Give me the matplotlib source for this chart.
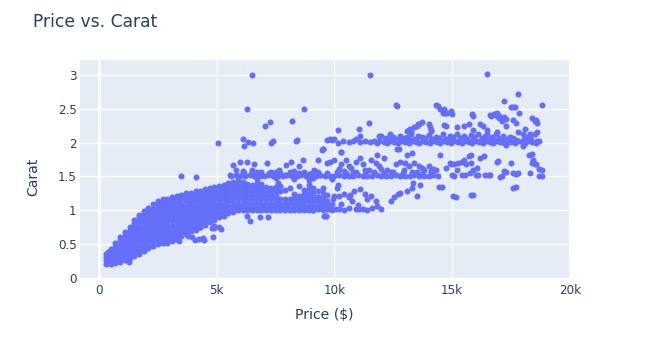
import matplotlib
matplotlib.use("Agg")
import matplotlib.pyplot as plt
from matplotlib.ticker import FixedLocator

# ---------------- data (price in $, carat) ----------------
# dense main cloud, listed column by column: (price, [carats...])
dense_columns = [
    (300, [.21, .26, .31, .36]),
    (400, [.22, .28, .34, .39]),
    (500, [.21, .27, .33, .39, .43]),
    (700, [.22, .28, .34, .40, .46, .52]),
    (900, [.24, .30, .36, .42, .48, .54, .60]),
    (1100, [.26, .32, .38, .44, .50, .56, .62, .68]),
    (1300, [.29, .35, .41, .47, .53, .59, .65, .71, .76]),
    (1500, [.33, .39, .45, .51, .57, .63, .69, .75, .81, .86]),
    (1700, [.36, .42, .48, .54, .60, .66, .72, .78, .84, .90, .93]),
    (1900, [.40, .46, .52, .58, .64, .70, .76, .82, .88, .94, .99]),
    (2100, [.44, .50, .56, .62, .68, .74, .80, .86, .92, .98, 1.03]),
    (2300, [.48, .54, .60, .66, .72, .78, .84, .90, .96, 1.02, 1.09]),
    (2500, [.50, .56, .62, .68, .74, .80, .86, .92, .98, 1.04, 1.10, 1.14]),
    (2700, [.51, .57, .63, .69, .75, .81, .87, .93, .99, 1.05, 1.11, 1.16]),
    (2900, [.52, .58, .64, .70, .76, .82, .88, .94, 1.00, 1.06, 1.12, 1.17]),
    (3100, [.55, .61, .67, .73, .79, .85, .91, .97, 1.03, 1.09, 1.15, 1.20]),
    (3300, [.58, .64, .70, .76, .82, .88, .94, 1.00, 1.06, 1.12, 1.18, 1.21]),
    (3500, [.62, .68, .74, .80, .86, .92, .98, 1.04, 1.10, 1.16, 1.22]),
    (3700, [.65, .71, .77, .83, .89, .95, 1.01, 1.07, 1.13, 1.19, 1.25]),
    (3900, [.69, .75, .81, .87, .93, .99, 1.05, 1.11, 1.17, 1.23, 1.26]),
    (4100, [.71, .77, .83, .89, .95, 1.01, 1.07, 1.13, 1.19, 1.25, 1.28]),
    (4300, [.75, .81, .87, .93, .99, 1.05, 1.11, 1.17, 1.23, 1.29]),
    (4500, [.78, .84, .90, .96, 1.02, 1.08, 1.14, 1.20, 1.26, 1.31]),
    (4700, [.82, .88, .94, 1.00, 1.06, 1.12, 1.18, 1.24, 1.30, 1.33]),
    (4900, [.86, .92, .98, 1.04, 1.10, 1.16, 1.22, 1.28, 1.34]),
    (5100, [.90, .96, 1.02, 1.08, 1.14, 1.20, 1.26, 1.32, 1.36]),
    (5300, [.92, .98, 1.04, 1.10, 1.16, 1.22, 1.28, 1.34, 1.37]),
    (5500, [.96, 1.01, 1.07, 1.13, 1.19, 1.25, 1.31, 1.37, 1.40]),
    (5700, [.98, 1.02, 1.08, 1.14, 1.20, 1.26, 1.32, 1.38, 1.42]),
    (5900, [1.00, 1.05, 1.10, 1.16, 1.22, 1.28, 1.34, 1.40, 1.44]),
    (6100, [1.00, 1.04, 1.10, 1.16, 1.22, 1.28, 1.34, 1.40, 1.42]),
    (6300, [1.00, 1.05, 1.11, 1.17, 1.23, 1.29, 1.35, 1.39]),
    (6500, [1.00, 1.04, 1.10, 1.16, 1.22, 1.28, 1.34, 1.38]),
    (6700, [1.00, 1.05, 1.11, 1.17, 1.23, 1.29, 1.35, 1.40]),
    (6900, [1.00, 1.04, 1.10, 1.16, 1.22, 1.28, 1.34, 1.39]),
    (7100, [1.00, 1.05, 1.11, 1.17, 1.23, 1.29, 1.35]),
    (7300, [1.00, 1.04, 1.10, 1.16, 1.22, 1.28, 1.33]),
    (7500, [1.00, 1.05, 1.11, 1.17, 1.23, 1.29, 1.35]),
    (7700, [1.00, 1.04, 1.10, 1.16, 1.28, 1.36]),
    (7900, [1.00, 1.05, 1.11, 1.17, 1.30]),
    (8100, [1.00, 1.04, 1.10, 1.16, 1.33]),
    (8300, [1.00, 1.06, 1.12, 1.18, 1.24]),
    (8500, [1.00, 1.03, 1.09, 1.15, 1.21, 1.36]),
    (8700, [1.00, 1.06, 1.12, 1.18, 1.24, 1.30]),
    (8900, [1.01, 1.07, 1.13, 1.19, 1.25, 1.31, 1.38]),
    (9100, [1.01, 1.07, 1.13, 1.19, 1.25, 1.33]),
    (9300, [1.02, 1.08, 1.14, 1.20, 1.28]),
    (9500, [1.01, 1.07, 1.13, 1.19, 1.26, 1.33]),
    (9700, [1.02, 1.08, 1.14, 1.22]),
    (9900, [1.01, 1.10]),
]

# stray points below/around the main cloud
low_price = [1270, 3250, 3400, 3700, 3780, 3960, 4080, 4250, 4400, 4460, 4800, 4840, 4880, 5180,
             4300, 4900, 5100, 6300, 6400, 6850, 7170, 9570, 9650, 12000, 8800, 9100, 9760, 10200,
             10400, 10600, 11200, 11400, 11600, 11800]
low_carat = [0.24, 0.58, 0.55, 0.67, 0.62, 0.60, 0.56, 0.57, 0.59, 0.56, 0.74, 0.61, 0.74, 0.72,
             0.76, 0.77, 0.75, 0.91, 0.84, 0.90, 0.90, 0.92, 0.91, 1.02, 1.02, 1.01, 1.02, 1.02,
             1.01, 1.03, 1.02, 1.01, 1.03, 1.06]

# 1.5 carat band (centre line) and scatter just above it
band15_price = [5600, 5800, 6000, 6200, 6400, 6600, 6800, 7000, 7200, 7400, 7600, 7800, 8000,
                8200, 8400, 8600, 8800, 9000, 9200, 9400, 9600, 9800, 10000, 10200, 10400,
                10600, 10800, 11000, 11200, 11400, 11600, 11800, 12000, 12200, 12400, 12600,
                12800, 13000, 13200, 13400, 13600, 13800, 14000, 14200, 14400,
                6100, 6500, 6900, 7300, 7700, 8100, 8500, 8900, 9300, 9700, 10100, 10500,
                10900, 11300, 11700, 12100, 12500, 12900, 13300, 13700, 14100,
                5900, 6700, 7500, 8300, 9100, 9900]
band15_carat = [1.51, 1.52, 1.50, 1.51, 1.52, 1.51, 1.50, 1.51, 1.52, 1.51, 1.50, 1.51, 1.52,
                1.50, 1.51, 1.52, 1.51, 1.50, 1.51, 1.52, 1.51, 1.50, 1.51, 1.52, 1.51,
                1.50, 1.51, 1.52, 1.51, 1.50, 1.51, 1.52, 1.51, 1.50, 1.51, 1.52,
                1.51, 1.50, 1.51, 1.52, 1.51, 1.50, 1.51, 1.52, 1.51,
                1.55, 1.56, 1.54, 1.56, 1.55, 1.57, 1.55, 1.54, 1.56, 1.55, 1.57, 1.55,
                1.56, 1.54, 1.56, 1.55, 1.57, 1.55, 1.56, 1.54, 1.56,
                1.47, 1.46, 1.47, 1.46, 1.47, 1.46]
upper15_price = [5700, 5800, 6000, 6300, 6600, 7140, 5550, 5900, 6170, 6500, 6900, 7240, 7660,
                 7940, 8160, 8500, 8650, 9150, 9300, 9470, 9700, 7600, 7900, 8200, 8900, 9050,
                 9400, 8500, 8700, 6100, 6700, 7500, 8300,
                 9800, 10000, 10300, 10500, 10600, 10900, 11100, 11200, 11550, 11750, 11900,
                 12100, 12250, 12600, 12800, 13000, 13150, 13400, 13600, 13800, 14000, 14300,
                 12650, 13100, 13300, 9500, 10270, 11800, 12750, 10400, 10800, 11300, 12400,
                 13500, 14100, 10200, 10700, 11450, 12000, 12950, 13700, 14200]
upper15_carat = [1.67, 1.60, 1.72, 1.71, 1.69, 1.70, 1.52, 1.50, 1.55, 1.60, 1.57, 1.55, 1.60,
                 1.67, 1.72, 1.65, 1.74, 1.60, 1.75, 1.89, 1.70, 1.41, 1.52, 1.50, 1.45, 1.55,
                 1.52, 1.52, 1.56, 1.58, 1.56, 1.56, 1.58,
                 1.72, 1.75, 1.68, 1.75, 1.65, 1.72, 1.77, 1.68, 1.75, 1.70, 1.65,
                 1.77, 1.60, 1.68, 1.72, 1.70, 1.65, 1.70, 1.65, 1.60, 1.65, 1.60,
                 1.90, 1.82, 1.85, 1.90, 1.86, 1.81, 1.90, 1.58, 1.57, 1.59, 1.56,
                 1.57, 1.58, 1.61, 1.62, 1.60, 1.61, 1.60, 1.62, 1.61]

# sparse 1.0 - 1.4 carat points beyond 9.5k
mid_price = [9650, 10000, 10140,
             10100, 10200, 10400, 10600, 10650, 10850, 11100, 11300, 11400, 11550, 11750,
             12400, 12550, 12700, 12800, 13100, 13300, 13350, 13500, 13650, 9850, 10050,
             10900, 11050, 15050, 14450, 15150, 15800, 17600, 14550, 17700, 15900,
             9950, 10300, 10750, 11000]
mid_carat = [0.91, 1.21, 1.38,
             1.33, 1.21, 1.24, 1.20, 1.22, 1.28, 1.31, 1.24, 1.16, 1.21, 1.14,
             1.14, 1.19, 1.24, 1.26, 1.28, 1.33, 1.40, 1.21, 1.38, 1.02, 1.02,
             1.02, 1.02, 1.21, 1.35, 1.20, 1.23, 1.33, 1.35, 1.34, 1.23,
             1.16, 1.10, 1.14, 1.08]

# 1.5 - 1.8 carat points beyond 14.5k
hi15_price = [14900, 15100, 15400, 15700, 15600, 15800, 16200, 16900, 17500, 18250, 18400,
              18500, 18550, 18700, 18700, 18300, 17600, 17200, 17050, 16400, 16550, 16000,
              15900, 15400, 15550, 15200, 15000, 15100, 14950, 14750, 15250, 15500, 16060,
              16950, 17300, 17700, 17800, 18800, 18800, 16600, 17100, 15750, 16100, 14500,
              16340, 15800, 18400, 18450]
hi15_carat = [1.70, 1.68, 1.72, 1.80, 1.68, 1.70, 1.77, 1.71, 1.70, 1.82, 1.70,
              1.68, 1.68, 1.61, 1.50, 1.55, 1.55, 1.58, 1.49, 1.52, 1.52, 1.52,
              1.60, 1.52, 1.52, 1.60, 1.52, 1.50, 1.68, 1.62, 1.70, 1.75, 1.62,
              1.73, 1.57, 1.53, 1.55, 1.60, 1.51, 1.52, 1.50, 1.55, 1.52, 1.82,
              1.80, 1.82, 1.83, 1.75]

# 2 carat band
band2_price = [9700, 9800, 9900, 10000, 10150, 10350, 10600, 10800, 10900, 11100, 11300, 11500,
               11700, 11800, 11900, 12100, 12250, 12400, 12550, 12700, 12850, 13000, 13150,
               13300, 13450, 13600, 13750, 13900, 14050, 14200, 14350, 14500, 14650, 14800,
               14950, 15100, 15250, 15400, 15550, 15700, 15850, 16000, 16150, 16300, 16450,
               16600, 16750, 16900, 17050, 17200, 17350, 17500, 17650, 17800, 17950, 18100,
               18250, 18400, 18550, 18700,
               12000, 12200, 12350, 12500, 12650, 12800, 12950, 13100, 13250, 13400, 13550,
               13700, 13850, 14000, 14150, 14300, 14450, 14600, 14750, 14900, 15050, 15200,
               15350, 15500, 15650, 15800, 15950, 16100, 16250, 16400, 16550, 16700, 16850,
               17000, 17150, 17300, 17450, 17600, 18050, 18200, 18350,
               12300, 12600, 12900, 13200, 13500, 13800, 14100, 14400, 14700, 15000, 15300,
               15600, 15900, 16200, 16500, 16800, 17100, 17400, 17700, 18000, 18300, 18600]
band2_carat = [2.04, 2.05, 2.04, 2.05, 2.00, 2.02, 2.01, 2.03, 2.05, 2.01, 2.02, 2.01,
               2.02, 2.00, 2.02, 2.01, 2.00, 2.02, 2.01, 2.00, 2.02, 2.01, 2.00,
               2.02, 2.01, 2.00, 2.02, 2.01, 2.00, 2.02, 2.01, 2.00, 2.02, 2.01,
               2.00, 2.02, 2.01, 2.00, 2.02, 2.01, 2.00, 2.02, 2.01, 2.00, 2.02,
               2.01, 2.00, 2.02, 2.01, 2.00, 2.02, 2.01, 2.00, 2.02, 2.01, 2.00,
               2.02, 2.01, 2.00, 2.02,
               2.10, 2.07, 2.12, 2.08, 2.06, 2.10, 2.07, 2.09, 2.12, 2.06, 2.10,
               2.08, 2.07, 2.11, 2.06, 2.09, 2.07, 2.12, 2.06, 2.10, 2.08, 2.12,
               2.07, 2.10, 2.06, 2.11, 2.08, 2.13, 2.07, 2.10, 2.06, 2.09, 2.12,
               2.07, 2.10, 2.06, 2.08, 2.07, 2.06, 2.08, 2.06,
               2.04, 2.03, 2.05, 2.04, 2.03, 2.05, 2.04, 2.03, 2.05, 2.04, 2.03,
               2.05, 2.04, 2.03, 2.05, 2.04, 2.03, 2.05, 2.04, 2.03, 2.04, 2.03]

# points above the 2 carat band
top_price = [6500, 11500, 16500, 6280, 8700, 7050, 7260, 8200, 8400, 6100, 6150, 6330, 6540,
             7300, 7400, 5050, 3500, 4100, 8370, 10150, 9500, 10270,
             17800, 17200, 18800, 12660, 14400, 14670, 14700, 14950, 14980, 17500, 17580,
             17650, 17860, 16800, 16900, 17000, 16650, 15900, 17300, 17100, 17300, 17700,
             18500, 18600, 11450, 13700, 13560, 13380, 14750, 11050, 13160, 13250, 14070,
             14100, 12600, 14300, 14500, 14600, 14800, 13600, 13500, 13200, 13100, 14000,
             14100, 14650, 15850, 16600, 16900, 17000, 17200, 17600, 18400, 18550, 15200,
             15500, 15700, 16200, 16300, 15900, 16500, 16900, 16500, 17800, 18100, 18000,
             18300, 17300, 18000, 18500, 18600, 11100, 11900]
top_carat = [3.00, 3.00, 3.01, 2.50, 2.50, 2.25, 2.30, 2.32, 2.04, 2.05, 1.95, 2.01, 2.00,
             2.00, 2.03, 2.00, 1.51, 1.49, 2.03, 2.19, 1.90, 1.86,
             2.72, 2.61, 2.55, 2.54, 2.54, 2.50, 2.44, 2.46, 2.42, 2.52, 2.52,
             2.52, 2.44, 2.42, 2.40, 2.40, 2.39, 2.39, 2.35, 2.32, 2.25, 2.29,
             2.32, 2.29, 2.29, 2.30, 2.28, 2.23, 2.25, 2.20, 2.18, 2.16, 2.23,
             2.19, 2.55, 2.55, 2.50, 2.44, 2.44, 2.28, 2.24, 2.20, 2.17, 2.28,
             2.17, 2.26, 2.42, 2.41, 2.43, 2.36, 2.38, 2.34, 2.37, 2.34, 2.23,
             2.25, 2.27, 2.27, 2.25, 2.18, 2.18, 2.16, 2.12, 2.16, 2.20, 2.12,
             2.12, 1.96, 1.95, 2.12, 2.16, 2.10, 2.10]

x_ticks = [0, 5000, 10000, 15000, 20000]
x_tick_labels = ["0", "5k", "10k", "15k", "20k"]
y_ticks = [0, 0.5, 1, 1.5, 2, 2.5, 3]
y_tick_labels = ["0", "0.5", "1", "1.5", "2", "2.5", "3"]

# ---------------- assemble ----------------
price, carat = [], []
for p, cs in dense_columns:
    for c in cs:
        price.append(p)
        carat.append(c)
for ps, cs in [(low_price, low_carat), (band15_price, band15_carat),
               (upper15_price, upper15_carat), (mid_price, mid_carat),
               (hi15_price, hi15_carat), (band2_price, band2_carat),
               (top_price, top_carat)]:
    price.extend(ps)
    carat.extend(cs)

# ---------------- figure ----------------
W, H = 648, 360
fig = plt.figure(figsize=(W / 100, H / 100), dpi=100)
fig.patch.set_facecolor("white")
ax = fig.add_axes([80 / W, (H - 278) / H, (569 - 80) / W, (278 - 60) / H])
ax.set_facecolor("#E5ECF6")
for s in ax.spines.values():
    s.set_visible(False)

ax.set_xlim(-807, 19965)
ax.set_ylim(0, 3.22)
ax.xaxis.set_major_locator(FixedLocator(x_ticks[:-1]))
ax.yaxis.set_major_locator(FixedLocator(y_ticks))
ax.set_xticklabels(x_tick_labels[:-1])
ax.set_yticklabels(y_tick_labels)
ax.grid(True, color="white", linewidth=1.0, zorder=0)
ax.set_axisbelow(True)
ax.axvline(0, color="white", linewidth=2.0, zorder=1)
ax.tick_params(axis="both", length=0, colors="#2a3f5f", labelsize=8.6)
ax.tick_params(axis="x", pad=4.5)
ax.tick_params(axis="y", pad=2.5)

# last x tick label sits just past the plot edge, as in the original
ax.annotate(x_tick_labels[-1], xy=(x_ticks[-1], 0), xycoords=("data", "axes fraction"),
            xytext=(0, -4.5), textcoords="offset points", ha="center", va="top",
            fontsize=8.6, color="#2a3f5f", annotation_clip=False)

ax.scatter(price, carat, s=19, color="#636efa", linewidths=0, zorder=3)

fig.text(33 / W, 1 - 22 / H, "Price vs. Carat", fontsize=12.3, color="#2a3f5f",
         ha="left", va="center")
fig.text(324 / W, 1 - 315 / H, r"Price (\$)", fontsize=10.1, color="#2a3f5f",
         ha="center", va="center")
fig.text(33 / W, 1 - 177 / H, "Carat", fontsize=10.1, color="#2a3f5f",
         ha="center", va="center", rotation=90)

fig.savefig("out.png", dpi=100)
